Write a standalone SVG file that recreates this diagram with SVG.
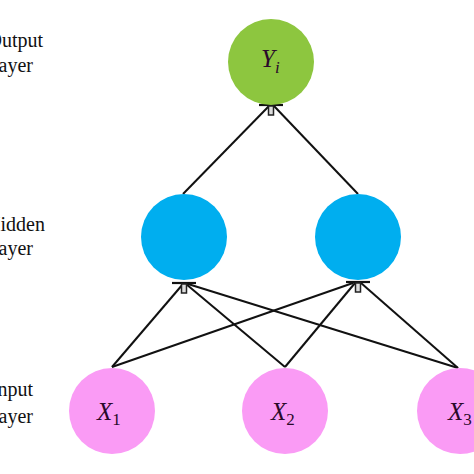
<svg xmlns="http://www.w3.org/2000/svg" xmlns:xlink="http://www.w3.org/1999/xlink" width="474" height="474" viewBox="0 0 474 474">
<style>
.lbl{font-family:"Liberation Serif","Times New Roman",serif;font-size:20px;fill:#111;text-anchor:end}
.nt{font-family:"Liberation Serif","Times New Roman",serif;font-size:25px;font-style:italic;fill:#2a0a2a}
.sub{font-size:17px}
.up{font-style:normal}
.edge{stroke:#111;stroke-width:2;fill:none}
.out{fill:#8DC63F}
.hid{fill:#00AEEF}
.inp{fill:#FA9BF5}
</style>
<defs>
<g id="ah">
<path d="M-12 0 H12" stroke="#111" stroke-width="2.2"/>
<rect x="-2.5" y="1" width="5" height="9" fill="#ddd" stroke="#222" stroke-width="1.5"/>
</g>
</defs>
<rect width="474" height="474" fill="#fff"/>
<g id="labels">
<text class="lbl" x="43" y="47">Output</text>
<text class="lbl" x="33" y="72">Layer</text>
<text class="lbl" x="45" y="231">Hidden</text>
<text class="lbl" x="33" y="255">Layer</text>
<text class="lbl" x="33" y="396">Input</text>
<text class="lbl" x="33" y="423">Layer</text>
</g>
<g id="connectors">
<line class="edge" x1="183" y1="194" x2="269" y2="106"/>
<line class="edge" x1="358" y1="194" x2="274" y2="106"/>
<line class="edge" x1="112" y1="367" x2="183" y2="284"/>
<line class="edge" x1="112" y1="367" x2="353" y2="283"/>
<line class="edge" x1="285" y1="367" x2="186" y2="284"/>
<line class="edge" x1="285" y1="367" x2="355" y2="283"/>
<line class="edge" x1="458" y1="368" x2="188" y2="284"/>
<line class="edge" x1="458" y1="368" x2="361" y2="283"/>
<use xlink:href="#ah" x="271" y="105"/>
<use xlink:href="#ah" x="184" y="283"/>
<use xlink:href="#ah" x="358" y="282"/>
</g>
<g id="node-y">
<circle class="out" cx="271" cy="62" r="43"/>
<text class="nt" x="261" y="67">Y<tspan class="sub" dy="6">i</tspan></text>
</g>
<g id="node-h1">
<circle class="hid" cx="184" cy="237" r="43"/>
</g>
<g id="node-h2">
<circle class="hid" cx="358" cy="237" r="43"/>
</g>
<g id="node-x1">
<circle class="inp" cx="112" cy="411" r="43"/>
<text class="nt" x="97" y="420">X<tspan class="sub up" dy="5">1</tspan></text>
</g>
<g id="node-x2">
<circle class="inp" cx="285" cy="411" r="43"/>
<text class="nt" x="271" y="420">X<tspan class="sub up" dy="5">2</tspan></text>
</g>
<g id="node-x3">
<circle class="inp" cx="460" cy="411" r="43"/>
<text class="nt" x="448" y="420">X<tspan class="sub up" dy="5">3</tspan></text>
</g>
</svg>
